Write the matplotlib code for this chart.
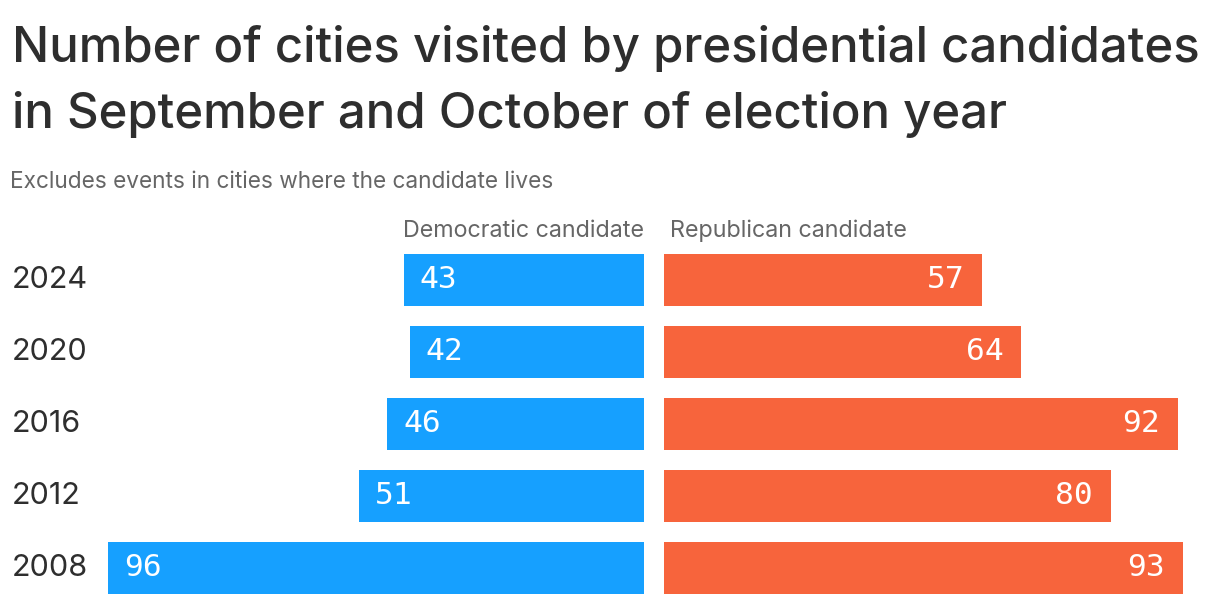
import matplotlib
matplotlib.use("Agg")
import matplotlib.pyplot as plt
import matplotlib.transforms as mtransforms

years = ["2024", "2020", "2016", "2012", "2008"]
dem = [43, 42, 46, 51, 96]
rep = [57, 64, 92, 80, 93]

title_lines = ["Number of cities visited by presidential candidates",
               "in September and October of election year"]
subtitle = "Excludes events in cities where the candidate lives"
dem_label = "Democratic candidate"
rep_label = "Republican candidate"

BLUE = "#16a0ff"
ORANGE = "#f7643c"
DARK = "#2e2e2e"
GRAY = "#666666"

W, H = 1220, 604
DPI = 100
fig = plt.figure(figsize=(W / DPI, H / DPI), dpi=DPI)
fig.patch.set_facecolor("white")

FONT = "Inter"
MONO = "DejaVu Sans Mono"

px_per_unit = 5.583
xmax = 99
ax_w = xmax * px_per_unit
top_px, bot_px = 244, 604

def fx(px):
    return px / W

def fy(py):
    return 1 - py / H

axL = fig.add_axes([fx(644 - ax_w), fy(bot_px), ax_w / W, (bot_px - top_px) / H])
axR = fig.add_axes([fx(664), fy(bot_px), ax_w / W, (bot_px - top_px) / H])

ypos = list(range(len(years)))
bar_h = 52 / 72

axL.barh(ypos, dem, height=bar_h, color=BLUE)
axR.barh(ypos, rep, height=bar_h, color=ORANGE)
axL.set_xlim(xmax, 0)
axR.set_xlim(0, xmax)
for ax in (axL, axR):
    ax.set_ylim(len(years) - 0.5, -0.5)
    ax.axis("off")

for i, v in enumerate(dem):
    axL.annotate(str(v), xy=(v, i), xytext=(16, 0), textcoords="offset pixels",
                 ha="left", va="center", color="white", fontsize=22.5, family=MONO)
for i, v in enumerate(rep):
    axR.annotate(str(v), xy=(v, i), xytext=(-18, 0), textcoords="offset pixels",
                 ha="right", va="center", color="white", fontsize=22.5, family=MONO)

trans = mtransforms.blended_transform_factory(fig.transFigure, axL.transData)
for i, y in enumerate(years):
    axL.text(fx(12), i, y, transform=trans, ha="left", va="center",
             fontsize=22, color=DARK, family=FONT)

fig.text(fx(12), fy(62), title_lines[0], ha="left", va="baseline",
         fontsize=35.4, color=DARK, family=FONT, weight=500)
fig.text(fx(12), fy(128), title_lines[1], ha="left", va="baseline",
         fontsize=35.4, color=DARK, family=FONT, weight=500)
fig.text(fx(10), fy(188), subtitle, ha="left", va="baseline",
         fontsize=16.3, color=GRAY, family=FONT)
fig.text(fx(644), fy(237), dem_label, ha="right", va="baseline",
         fontsize=16.8, color=GRAY, family=FONT)
fig.text(fx(670), fy(237), rep_label, ha="left", va="baseline",
         fontsize=16.8, color=GRAY, family=FONT)

fig.savefig("out.png", dpi=DPI, facecolor="white")
